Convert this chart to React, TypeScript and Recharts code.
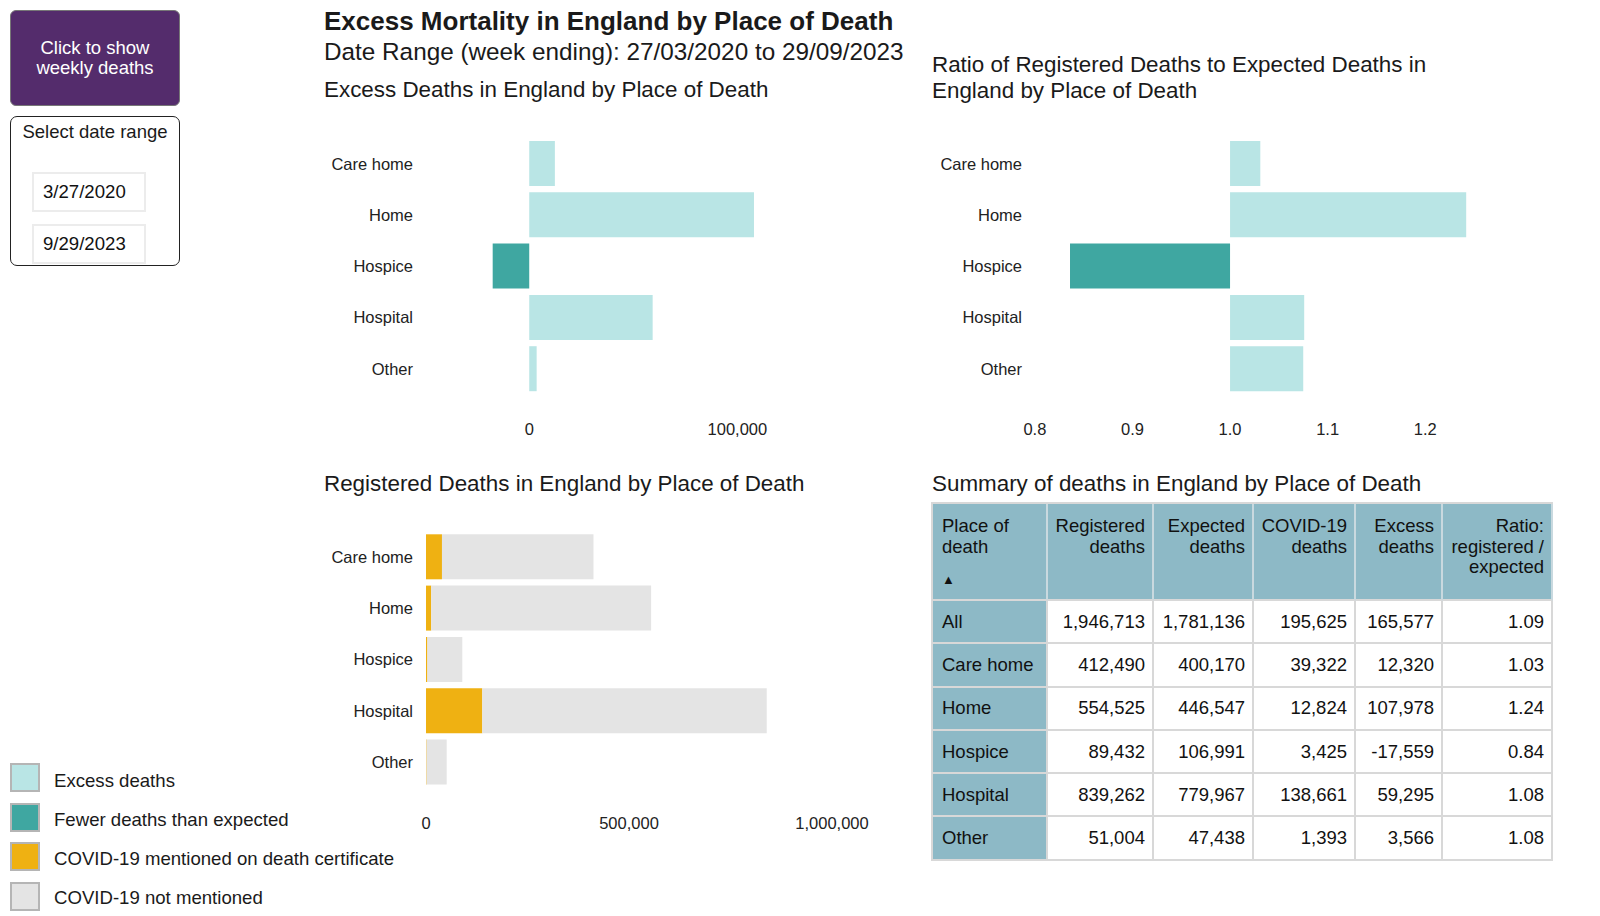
import React from 'react';
import { BarChart, Bar, XAxis, YAxis, Cell } from 'recharts';

const FONT = '"Liberation Sans", Arial, Helvetica, sans-serif';

// chart data (place of death order as shown)
const places = ['Care home', 'Home', 'Hospice', 'Hospital', 'Other'];
const excessDeaths = [12320, 107978, -17559, 59295, 3566];
const deathRatio = [1.031, 1.242, 0.836, 1.076, 1.075];
const covidDeaths = [39322, 12824, 3425, 138661, 1393];
const nonCovidDeaths = [373168, 541701, 86007, 700601, 49611];

const excessTicks = [0, 100000];
const ratioTicks = [0.8, 0.9, 1.0, 1.1, 1.2];
const registeredTicks = [0, 500000, 1000000];

// summary table
const tableHeaders = ['Place of\ndeath', 'Registered\ndeaths', 'Expected\ndeaths', 'COVID-19\ndeaths', 'Excess\ndeaths', 'Ratio:\nregistered /\nexpected'];
const tablePlaces = ['All', 'Care home', 'Home', 'Hospice', 'Hospital', 'Other'];
const tableRegistered = [1946713, 412490, 554525, 89432, 839262, 51004];
const tableExpected = [1781136, 400170, 446547, 106991, 779967, 47438];
const tableCovid = [195625, 39322, 12824, 3425, 138661, 1393];
const tableExcess = [165577, 12320, 107978, -17559, 59295, 3566];
const tableRatio = ['1.09', '1.03', '1.24', '0.84', '1.08', '1.08'];

const legendLabels = ['Excess deaths', 'Fewer deaths than expected', 'COVID-19 mentioned on death certificate', 'COVID-19 not mentioned'];

const LIGHT_TEAL = '#b9e5e5';
const DARK_TEAL = '#3fa7a1';
const COVID = '#efb112';
const NON_COVID = '#e4e4e4';
const HEADER_BLUE = '#8db9c6';
const legendColors = [LIGHT_TEAL, DARK_TEAL, COVID, NON_COVID];

const colWidths = [115, 106, 100, 102, 87, 110];

const tickStyle = { fontSize: 16.5, fill: '#222', fontFamily: FONT };
const fmt = (v: number) => v.toLocaleString('en-US');

function Title({ text, left, top, size, bold = false, lineHeight }: { text: string; left: number; top: number; size: number; bold?: boolean; lineHeight?: number }) {
  return (
    <div
      style={{
        position: 'absolute',
        left,
        top,
        fontSize: size,
        lineHeight: `${lineHeight ?? size}px`,
        fontWeight: bold ? 700 : 400,
        color: '#1a1a1a',
        whiteSpace: 'pre',
      }}
    >
      {text}
    </div>
  );
}

function ExcessChart() {
  const data = places.map((place, i) => ({ place, excess: excessDeaths[i] }));
  return (
    <div style={{ position: 'absolute', left: 300, top: 120 }}>
      <BarChart width={500} height={330} data={data} layout="vertical" margin={{ top: 18, right: 21, bottom: 5.5, left: 0 }}>
        <XAxis
          type="number"
          domain={[-52000, 120000]}
          ticks={excessTicks}
          interval={0}
          allowDataOverflow
          tickFormatter={fmt}
          axisLine={false}
          tickLine={false}
          tickSize={0}
          tickMargin={29}
          height={50}
          tick={tickStyle}
        />
        <YAxis type="category" dataKey="place" width={121} axisLine={false} tickLine={false} tick={tickStyle} />
        <Bar dataKey="excess" barSize={45} isAnimationActive={false}>
          {data.map((d) => (
            <Cell key={d.place} fill={d.excess < 0 ? DARK_TEAL : LIGHT_TEAL} />
          ))}
        </Bar>
      </BarChart>
    </div>
  );
}

function RatioChart() {
  const data = places.map((place, i) => ({ place, ratio: deathRatio[i] }));
  return (
    <div style={{ position: 'absolute', left: 900, top: 120 }}>
      <BarChart width={600} height={330} data={data} layout="vertical" margin={{ top: 18, right: 26, bottom: 5.5, left: 0 }}>
        <XAxis
          type="number"
          domain={[0.795, 1.25]}
          ticks={ratioTicks}
          interval={0}
          allowDataOverflow
          tickFormatter={(v: number) => v.toFixed(1)}
          axisLine={false}
          tickLine={false}
          tickSize={0}
          tickMargin={29}
          height={50}
          tick={tickStyle}
        />
        <YAxis type="category" dataKey="place" width={130} axisLine={false} tickLine={false} tick={tickStyle} />
        <Bar dataKey={(d: { ratio: number }) => [1, d.ratio]} barSize={45} isAnimationActive={false}>
          {data.map((d) => (
            <Cell key={d.place} fill={d.ratio < 1 ? DARK_TEAL : LIGHT_TEAL} />
          ))}
        </Bar>
      </BarChart>
    </div>
  );
}

function RegisteredChart() {
  const data = places.map((place, i) => ({ place, covid: covidDeaths[i], other: nonCovidDeaths[i] }));
  return (
    <div style={{ position: 'absolute', left: 300, top: 500 }}>
      <BarChart width={620} height={340} data={data} layout="vertical" margin={{ top: 31.3, right: 88, bottom: 2.2, left: 0 }}>
        <XAxis
          type="number"
          domain={[0, 1000000]}
          ticks={registeredTicks}
          interval={0}
          allowDataOverflow
          tickFormatter={fmt}
          axisLine={false}
          tickLine={false}
          tickSize={0}
          tickMargin={29}
          height={50}
          tick={tickStyle}
        />
        <YAxis type="category" dataKey="place" width={126} axisLine={false} tickLine={false} tickSize={0} tickMargin={13} tick={tickStyle} />
        <Bar dataKey="covid" stackId="reg" fill={COVID} barSize={45} isAnimationActive={false} />
        <Bar dataKey="other" stackId="reg" fill={NON_COVID} barSize={45} isAnimationActive={false} />
      </BarChart>
    </div>
  );
}

function SummaryTable() {
  const cell = (bg: string, align: 'left' | 'right'): React.CSSProperties => ({
    boxSizing: 'border-box',
    background: bg,
    borderRight: '2px solid #d8d8d8',
    borderBottom: '2px solid #d8d8d8',
    padding: align === 'left' ? '0 7px 0 9px' : '0 7px 0 4px',
    display: 'flex',
    alignItems: 'center',
    justifyContent: align === 'left' ? 'flex-start' : 'flex-end',
    whiteSpace: 'nowrap',
  });
  const columns = [tableRegistered, tableExpected, tableCovid, tableExcess];
  return (
    <div
      style={{
        position: 'absolute',
        left: 931,
        top: 502,
        display: 'grid',
        gridTemplateColumns: colWidths.map((w) => `${w}px`).join(' '),
        gridTemplateRows: '97px repeat(6, 43.3px)',
        borderTop: '2px solid #d8d8d8',
        borderLeft: '2px solid #d8d8d8',
        fontSize: 18.5,
        color: '#111',
      }}
    >
      {tableHeaders.map((h, i) => (
        <div
          key={h}
          style={{
            boxSizing: 'border-box',
            background: HEADER_BLUE,
            borderRight: '2px solid #c9d9df',
            borderBottom: '2px solid #d8d8d8',
            padding: i === 0 ? '12px 7px 0 9px' : '12px 7px 0 4px',
            lineHeight: '20.5px',
            whiteSpace: 'pre',
            textAlign: i === 0 ? 'left' : 'right',
            position: 'relative',
          }}
        >
          {h}
          {i === 0 && (
            <span style={{ position: 'absolute', left: 9, top: 66, fontSize: 13 }}>▲</span>
          )}
        </div>
      ))}
      {tablePlaces.map((p, r) => (
        <React.Fragment key={p}>
          <div style={cell(HEADER_BLUE, 'left')}>{p}</div>
          {columns.map((col, c) => (
            <div key={c} style={cell('#ffffff', 'right')}>
              {fmt(col[r])}
            </div>
          ))}
          <div style={cell('#ffffff', 'right')}>{tableRatio[r]}</div>
        </React.Fragment>
      ))}
    </div>
  );
}

function Legend() {
  return (
    <>
      {legendLabels.map((label, i) => (
        <React.Fragment key={label}>
          <div
            style={{
              position: 'absolute',
              left: 10,
              top: 763 + i * 39.6,
              width: 30,
              height: 29,
              boxSizing: 'border-box',
              background: legendColors[i],
              border: '2px solid #b5b5b5',
            }}
          />
          <div style={{ position: 'absolute', left: 54, top: 771.5 + i * 39.3, fontSize: 18.6, lineHeight: '18.6px', color: '#1a1a1a' }}>
            {label}
          </div>
        </React.Fragment>
      ))}
    </>
  );
}

function Controls() {
  return (
    <>
      <div
        style={{
          position: 'absolute',
          left: 10,
          top: 10,
          width: 170,
          height: 96,
          boxSizing: 'border-box',
          background: '#542c6c',
          border: '1px solid #777',
          borderRadius: 6,
          color: '#fff',
          fontSize: 18.5,
          lineHeight: '20px',
          display: 'flex',
          alignItems: 'center',
          justifyContent: 'center',
          textAlign: 'center',
        }}
      >
        Click to show
        <br />
        weekly deaths
      </div>
      <div
        style={{
          position: 'absolute',
          left: 10,
          top: 116,
          width: 170,
          height: 150,
          boxSizing: 'border-box',
          border: '1.5px solid #222',
          borderRadius: 7,
        }}
      >
        <div style={{ position: 'absolute', left: 0, right: 0, top: 5, textAlign: 'center', fontSize: 18.5, lineHeight: '20px', color: '#1a1a1a' }}>
          Select date range
        </div>
        {['3/27/2020', '9/29/2023'].map((d, i) => (
          <div
            key={d}
            style={{
              position: 'absolute',
              left: 21,
              top: 55 + i * 52,
              width: 114,
              height: 40,
              boxSizing: 'border-box',
              border: '2px solid #ececec',
              fontSize: 18.6,
              lineHeight: '36px',
              paddingLeft: 9,
              color: '#111',
            }}
          >
            {d}
          </div>
        ))}
      </div>
    </>
  );
}

export default function App() {
  return (
    <div
      style={{
        position: 'absolute',
        left: 0,
        top: 0,
        width: 1600,
        height: 916,
        overflow: 'hidden',
        background: '#fff',
        fontFamily: FONT,
      }}
    >
      <Controls />
      <Title text="Excess Mortality in England by Place of Death" left={324} top={7.5} size={26} bold />
      <Title text="Date Range (week ending): 27/03/2020 to 29/09/2023" left={324} top={40} size={24.3} />
      <Title text="Excess Deaths in England by Place of Death" left={324} top={79} size={22.4} />
      <Title text={'Ratio of Registered Deaths to Expected Deaths in\nEngland by Place of Death'} left={932} top={52} size={22.4} lineHeight={26} />
      <Title text="Registered Deaths in England by Place of Death" left={324} top={473} size={22.4} />
      <Title text="Summary of deaths in England by Place of Death" left={932} top={473} size={22.4} />
      <ExcessChart />
      <RatioChart />
      <RegisteredChart />
      <SummaryTable />
      <Legend />
    </div>
  );
}
